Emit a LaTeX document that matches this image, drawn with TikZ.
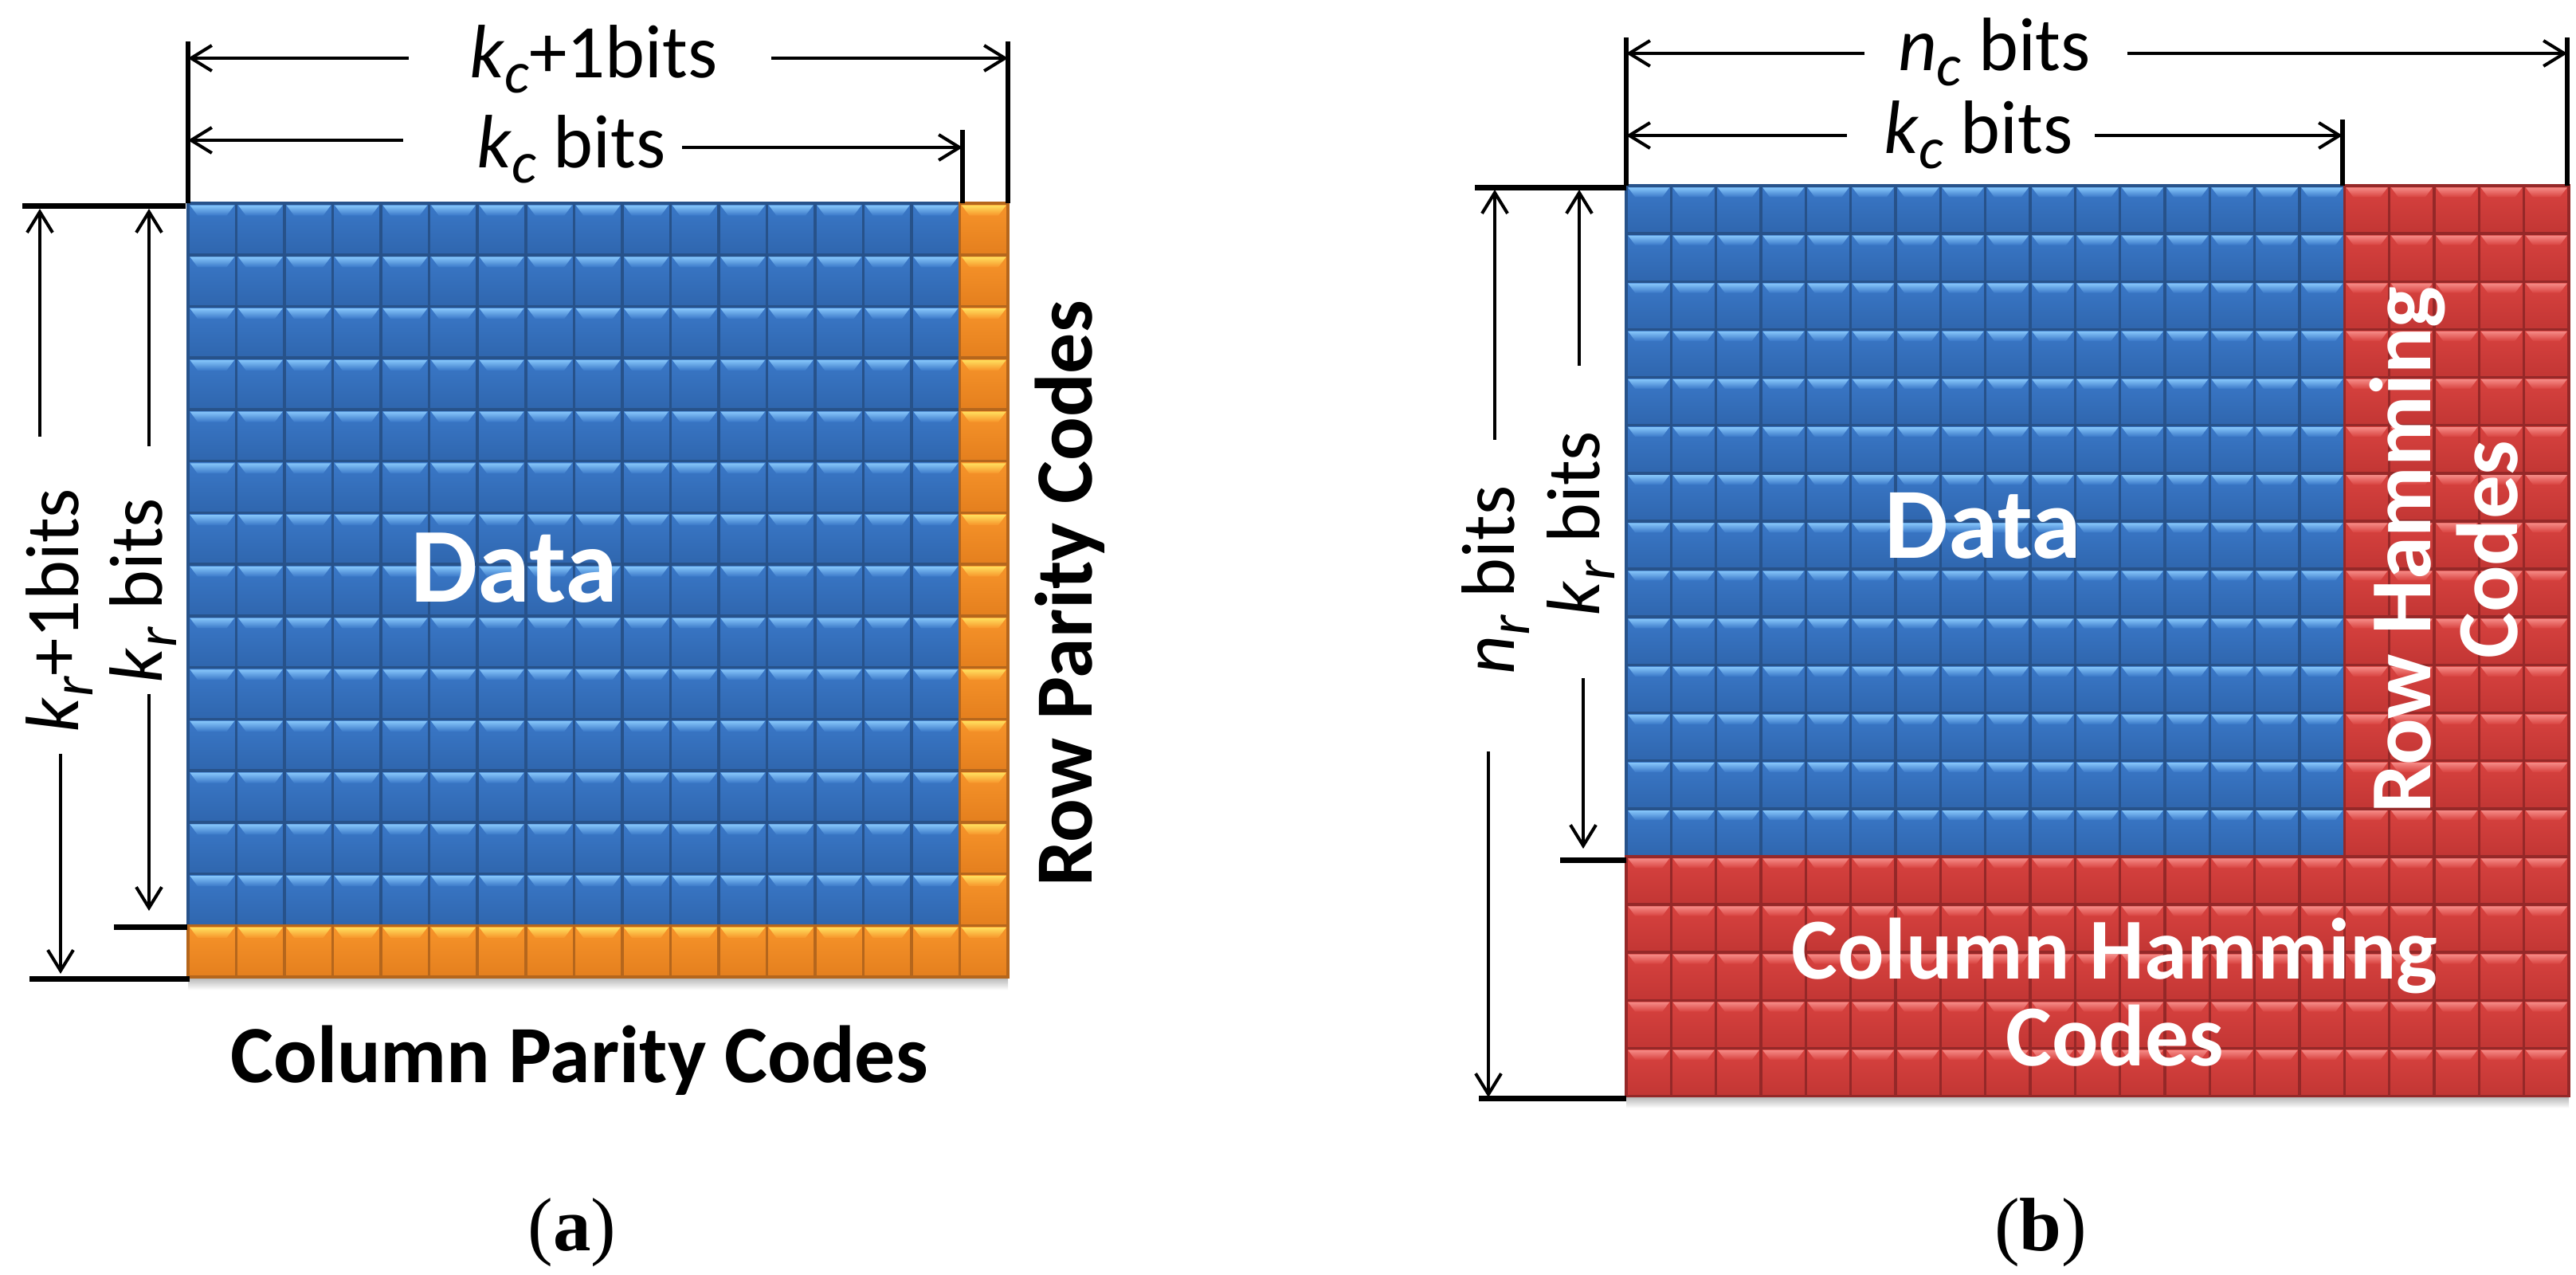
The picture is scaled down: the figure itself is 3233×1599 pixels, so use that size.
\documentclass[tikz,border=0pt]{standalone}
\usepackage{fontspec}
\setmainfont{Carlito}
\newfontfamily\capfont{Liberation Serif}
\usepackage{graphicx}
\usetikzlibrary{arrows.meta}

\definecolor{blbody}{HTML}{3A78C8}
\definecolor{bllow}{HTML}{2F66AE}
\definecolor{blhi}{HTML}{86C6FA}
\definecolor{blline}{HTML}{27528A}
\definecolor{orbody}{HTML}{F7942A}
\definecolor{orlow}{HTML}{E47F1E}
\definecolor{orhi}{HTML}{FFDF5E}
\definecolor{orline}{HTML}{B5661C}
\definecolor{rdbody}{HTML}{D8423F}
\definecolor{rdlow}{HTML}{C23634}
\definecolor{rdhi}{HTML}{F58A86}
\definecolor{rdline}{HTML}{952828}

% one bevelled bit of the array, unit square at (#1,#2)
\newcommand{\bitcell}[3]{%
  \shade[top color=#3body, bottom color=#3low] (#1,#2) rectangle +(1,1);
  \shade[top color=#3hi, bottom color=#3body] (#1+0.04,#2+0.04) -- (#1+0.96,#2+0.04) -- (#1+0.8,#2+0.24) -- (#1+0.2,#2+0.24) -- cycle;
  \draw[#3line, line width=0.35mm] (#1,#2) rectangle +(1,1);
}
\newcommand{\lsub}[2]{\textit{#1}\raisebox{-0.2em}{\scalebox{0.78}{\textit{#2}}}}

\tikzset{
  dim/.style={line width=0.4mm, -{Straight Barb[length=2.6mm,width=3.2mm]}},
  ext/.style={line width=0.6mm},
  bar/.style={line width=0.7mm},
  dimlabel/.style={font=\fontsize{27}{30}\selectfont, inner sep=0pt, anchor=base},
  boldlabel/.style={font=\fontsize{29}{32}\selectfont\bfseries, inner sep=0pt, anchor=base},
  datalabel/.style={text=white, inner sep=0pt, font=\fontsize{#1}{#1}\selectfont\bfseries},
  caplabel/.style={font=\capfont\fontsize{27}{30}\selectfont, inner sep=0pt, anchor=base}
}

\begin{document}
\begin{tikzpicture}[x=0.01cm, y=-0.01cm]
\useasboundingbox (0,0) rectangle (3233,1599);

% (a) array
\begin{scope}[shift={(236,255)}, x=0.605cm, y=-0.647cm]
 \shade[top color=black!30, bottom color=white] (0,15) rectangle (17,15.25);
 \foreach \i in {0,...,16} \foreach \j in {0,...,14} {
   \ifnum\i=16 \def\cc{or}\else\ifnum\j=14 \def\cc{or}\else\def\cc{bl}\fi\fi
   \edef\tmp{\noexpand\bitcell{\i}{\j}{\cc}}\tmp
 }
\end{scope}

\node[datalabel=38, anchor=base] (adata) at (645,755) {Data};
\node[boldlabel] (acol) at (727,1358) {Column Parity Codes};
\node[boldlabel, rotate=90] (arow) at (1370,745) {Row Parity Codes};

\node[dimlabel] (akc1) at (745,97) {\lsub{k}{c}+1bits};
\node[dimlabel] (akc) at (717,210) {\lsub{k}{c} bits};
\node[dimlabel, rotate=90] (akr1) at (98,766) {\lsub{k}{r}+1bits};
\node[dimlabel, rotate=90] (akr) at (203,741) {\lsub{k}{r} bits};

\draw[ext] (236,52) -- (236,255);
\draw[ext] (1265,52) -- (1265,255);
\draw[ext] (1208,163) -- (1208,255);
\draw[bar] (28,258) -- (233,258);
\draw[bar] (143,1163) -- (235,1163);
\draw[bar] (37,1228) -- (238,1228);

\coordinate (aL1) at (236,73);
\coordinate (aR1) at (1265,73);
\coordinate (aL2) at (236,176);
\coordinate (aR2) at (1208,185);
\coordinate (aT1) at (50,262);
\coordinate (aB1) at (76,1222);
\coordinate (aT2) at (187,262);
\coordinate (aB2) at (187,1143);
\draw[dim, shorten <=7.6mm] (aL1 -| akc1.west) -- (aL1);
\draw[dim, shorten <=6.7mm] (aR1 -| akc1.east) -- (aR1);
\draw[dim, shorten <=9.2mm] (aL2 -| akc.west) -- (aL2);
\draw[dim, shorten <=2mm] (aR2 -| akc.east) -- (aR2);
\draw[dim, shorten <=6.4mm] (aT1 |- akr1.east) -- (aT1);
\draw[dim, shorten <=2.6mm] (aB1 |- akr1.west) -- (aB1);
\draw[dim, shorten <=6.4mm] (aT2 |- akr.east) -- (aT2);
\draw[dim, shorten <=1.3mm] (aB2 |- akr.west) -- (aB2);

\node[caplabel] (capa) at (718,1569) {(\textbf{a})};

% (b) array
\begin{scope}[shift={(2041,233)}, x=0.563cm, y=-0.601cm]
 \shade[top color=black!30, bottom color=white] (0,19) rectangle (21,19.25);
 \foreach \i in {0,...,20} \foreach \j in {0,...,18} {
   \def\cc{rd}
   \ifnum\i<16 \ifnum\j<14 \def\cc{bl}\fi\fi
   \edef\tmp{\noexpand\bitcell{\i}{\j}{\cc}}\tmp
 }
\end{scope}

\node[datalabel=36, anchor=base] (bdata) at (2489,700) {Data};
\node[datalabel=31, align=center, rotate=90] (brow) at (3067,690) {Row Hamming\\Codes};
\node[datalabel=31, align=center] (bcol) at (2654,1245) {Column Hamming\\Codes};

\node[dimlabel] (bnc) at (2503,88) {\lsub{n}{c} bits};
\node[dimlabel] (bkc) at (2483,192) {\lsub{k}{c} bits};
\node[dimlabel, rotate=90] (bnr) at (1900,728) {\lsub{n}{r} bits};
\node[dimlabel, rotate=90] (bkr) at (2007,657) {\lsub{k}{r} bits};

\draw[ext] (2041,47) -- (2041,233);
\draw[ext] (3222,47) -- (3222,233);
\draw[ext] (2940,150) -- (2940,233);
\draw[bar] (1851,235) -- (2041,235);
\draw[bar] (1958,1079) -- (2041,1079);
\draw[bar] (1856,1378) -- (2041,1378);

\coordinate (bL1) at (2041,67);
\coordinate (bR1) at (3222,67);
\coordinate (bL2) at (2041,170);
\coordinate (bR2) at (2940,170);
\coordinate (bT1) at (1876,238);
\coordinate (bB1) at (1868,1377);
\coordinate (bT2) at (1982,238);
\coordinate (bB2) at (1987,1065);
\draw[dim, shorten <=4.1mm] (bL1 -| bnc.west) -- (bL1);
\draw[dim, shorten <=4.5mm] (bR1 -| bnc.east) -- (bR1);
\draw[dim, shorten <=4.6mm] (bL2 -| bkc.west) -- (bL2);
\draw[dim, shorten <=2.7mm] (bR2 -| bkc.east) -- (bR2);
\draw[dim, shorten <=5.7mm] (bT1 |- bnr.east) -- (bT1);
\draw[dim, shorten <=9.6mm] (bB1 |- bnr.west) -- (bB1);
\draw[dim, shorten <=8.1mm] (bT2 |- bkr.east) -- (bT2);
\draw[dim, shorten <=7.7mm] (bB2 |- bkr.west) -- (bB2);

\node[caplabel] (capb) at (2561,1569) {(\textbf{b})};
\end{tikzpicture}
\end{document}
